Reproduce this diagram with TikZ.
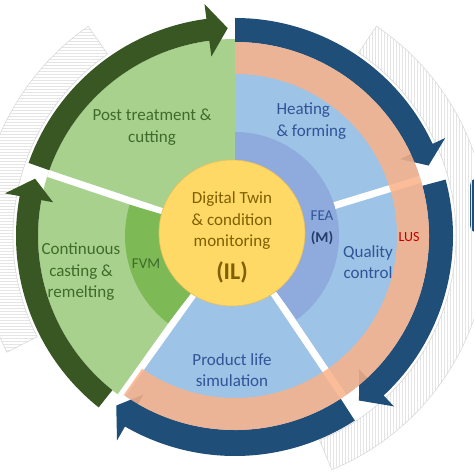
\documentclass[tikz,border=0pt]{standalone}
\usepackage{fontspec}
\setmainfont{Carlito}
\usetikzlibrary{patterns}

\definecolor{leafgreen}{HTML}{A9D18E}
\definecolor{fvmgreen}{HTML}{7DBA56}
\definecolor{darkgreen}{HTML}{385723}
\definecolor{textgreen}{HTML}{3E6B2A}
\definecolor{skyblue}{HTML}{9DC3E6}
\definecolor{feablue}{HTML}{8FAADC}
\definecolor{navyblue}{HTML}{1F4E79}
\definecolor{textblue}{HTML}{2F5597}
\definecolor{salmon}{HTML}{FBB288}
\definecolor{twinyellow}{HTML}{FFD966}
\definecolor{twinbrown}{HTML}{7F6000}
\definecolor{lusred}{HTML}{C00000}

% ring piece: options, start angle, end angle, inner radius, outer radius
\newcommand\ringseg[5]{%
  \path[#1] (#2:#4) arc[start angle=#2,end angle=#3,radius=#4]
    -- (#3:#5) arc[start angle=#3,end angle=#2,radius=#5] -- cycle;}
% curved band arrow: options, tail, head base, tip, inner r, outer r, inner barb, outer barb
\newcommand\bandarrow[8]{%
  \pgfmathsetmacro\rmid{(#5+#6)/2}
  \path[#1] (#2:#5) arc[start angle=#2,end angle=#3,radius=#5]
    -- (#3:#7) -- (#4:\rmid) -- (#3:#8)
    -- (#3:#6) arc[start angle=#3,end angle=#2,radius=#6] -- cycle;}

\begin{document}
\begin{tikzpicture}[
x=1pt,y=1pt,
ghostleft/.style={
	fill=white,
	pattern=horizontal lines,
	pattern color=gray!20,
	draw=gray!30,
	line width=0.6pt
},
ghostright/.style={
	fill=white,
	pattern=vertical lines,
	pattern color=gray!20,
	draw=gray!30,
	line width=0.6pt
},
gapline/.style={
	draw=white,
	line width=7pt
},
segtext/.style={
	align=center,
	font=\fontsize{17}{21.5}\selectfont
},
greentext/.style={
	segtext,
	text=textgreen
},
bluetext/.style={
	segtext,
	text=textblue
}
]
\useasboundingbox (0,0) rectangle (474,474);
\clip (0,0) rectangle (474,474);

% cut-off box at the right edge
\fill[navyblue,rounded corners=8pt] (470,241) rectangle (500,296);

\begin{scope}[shift={(235,238)}]
% faded arrows behind
\ringseg{ghostleft}{125}{207}{222}{256}
\ringseg{ghostright}{56}{-67.5}{221}{253}

% pie segments
\foreach \a/\b/\r/\c in {90/161.5/197/leafgreen,161.5/234.5/197/leafgreen,%
	234.5/304/194/skyblue,304/377/194/skyblue,17/90/194/skyblue}
\path[fill=\c] (0,0) -- (\a:\r) arc[start angle=\a,end angle=\b,radius=\r] -- cycle;

\foreach \a/\r in {161.5/197,234.5/197,304/194,17/194}
\draw[gapline] (0,0) -- (\a:\r);

% method bands
\ringseg{fill=feablue}{90}{-53.5}{68}{104}
\ringseg{fill=fvmgreen}{163.5}{232.5}{68}{110}

% cycle arrows
\bandarrow{fill=darkgreen}{160.5}{97.5}{92}{197}{219}{181}{234}
\bandarrow{fill=darkgreen}{231.5}{169.5}{164}{197}{219}{185}{234}
\bandarrow{fill=navyblue}{90}{25}{20}{194}{218}{182}{232}
\bandarrow{fill=navyblue}{15}{-47}{-53}{194}{218}{182}{233}
\bandarrow{fill=navyblue}{-57}{-120}{-125}{194}{220}{183}{236}

% LUS ring
\ringseg{fill=salmon,fill opacity=0.85}{90}{-125}{162}{194}

% core
\node[circle,fill=twinyellow,draw=twinyellow!70!brown,line width=0.6pt,
	minimum size=146pt,inner sep=0pt] (twin) at (-3,3) {};
\node[segtext,text=twinbrown] (twintext) at (-3,15) {Digital Twin\\\& condition\\monitoring};
\node[text=twinbrown,font=\fontsize{24}{24}\selectfont\bfseries] (il) at (-3,-36) {(IL)};

% segment labels
\node[greentext] (post) at (-83,109) {Post treatment \&\\cutting};
\node[greentext] (cast) at (-154,-36) {Continuous\\casting \&\\remelting};
\node[text=textgreen,font=\fontsize{15}{18}\selectfont] (fvm) at (-89,-28) {FVM};
\node[bluetext,align=left,anchor=west] (heat) at (38,115) {Heating\\\& forming};
\node[text=textblue,align=center,font=\fontsize{15}{22}\selectfont] (fea) at (87,8)
	{FEA\\\textbf{\color{textblue!70!black}(M)}};
\node[bluetext] (quality) at (133,-26) {Quality\\control};
\node[bluetext] (product) at (-3,-134) {Product life\\simulation};
\node[text=lusred,font=\fontsize{14}{16}\selectfont] (lus) at (174,-1) {LUS};
\end{scope}
\end{tikzpicture}
\end{document}
